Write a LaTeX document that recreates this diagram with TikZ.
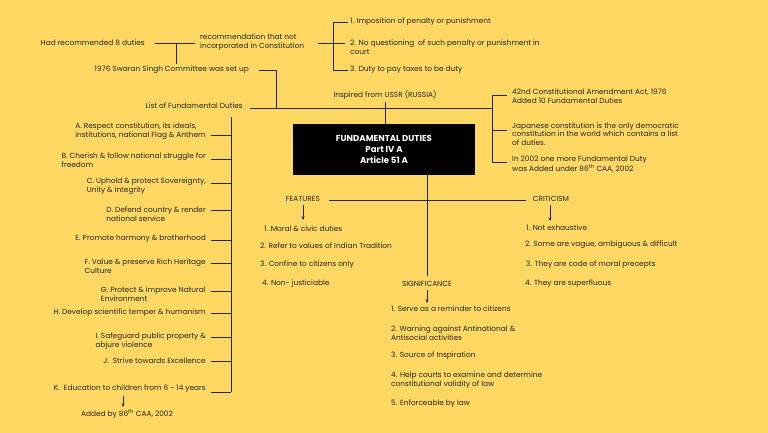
\documentclass[tikz,border=0pt]{standalone}
\usepackage{fontspec}
\setmainfont{Poppins}
\begin{document}
\begin{tikzpicture}[x=1pt,y=-1pt,
  t/.style={inner sep=0pt,font=\fontsize{7.4}{8.6}\selectfont,align=left,text=black!85},
  ln/.style={line width=0.9pt,black!85},
  ar/.style={ln,-{Stealth[length=3.5pt,width=3pt]}}]
\usetikzlibrary{arrows.meta}
\fill[yellow!40!orange!45!white] (0,0) rectangle (768,433);
\fill[fill={rgb,255:red,255;green,216;blue,100}] (0,0) rectangle (768,433);
\useasboundingbox (0,0) rectangle (768,433);
% top left
\node[t,anchor=east] (had) at (145,43) {Had recommended 8 duties};
\node[t,anchor=west] (rec) at (200,42) {recommendation that not\\incorporated in Constitution};
\node[t,anchor=east] (sw) at (249,70) {1976 Swaran Singh Committee was set up};
\draw[ln] (155,43) -- (195,43);
\draw[ln] (176,43) -- (176,64);
\draw[ln] (318,43) -- (345,43);
\draw[ln] (348,22) -- (333,22) -- (333,70) -- (348,70);
\node[t,anchor=west] (p1) at (350,22) {1. Imposition of penalty or punishment};
\node[t,anchor=west] (p2) at (350,47) {2. No questioning\ \ of such penalty or punishment in\\court};
\node[t,anchor=west] (p3) at (350,70) {3. Duty to pay taxes to be duty};
\draw[ln] (259,70) -- (276,70) -- (276,108);
\node[t,anchor=east] (lfd) at (243,106) {List of Fundamental Duties};
\draw[ln] (250,108) -- (492,108);
\node[t] (us) at (385,95) {Inspired from USSR (RUSSIA)};
\draw[ln] (385,102) -- (385,124);
\node[fill=black,text=white,font=\bfseries\fontsize{8.6}{11}\selectfont,align=center,minimum width=182pt,minimum height=51pt,inner sep=0pt] (box) at (384,149.5) {FUNDAMENTAL DUTIES\\Part IV A\\Article 51 A};
% right bracket
\draw[ln] (507,95) -- (492,95) -- (492,162) -- (507,162);
\draw[ln] (492,130) -- (507,130);
\node[t,anchor=west] at (512,96) {42nd Constitutional Amendment Act, 1976\\Added 10 Fundamental Duties};
\node[t,anchor=west] at (512,134) {Japanese constitution is the only democratic\\constitution in the world which contains a list\\of duties.};
\node[t,anchor=west] at (512,164) {In 2002 one more Fundamental Duty\\was Added under 86\textsuperscript{th} CAA, 2002};
% left list
\draw[ln] (231,117) -- (231,392);
\foreach \y/\txt in {131/{A. Respect constitution, its ideals,\\institutions, national Flag \& Anthem},
  160/{B. Cherish \& follow national struggle for\\freedom},
  186/{C. Uphold \& protect Sovereignty,\\Unity \& Integrity},
  214/{D. Defend country \& render\\national service},
  239/{E. Promote harmony \& brotherhood},
  266/{F. Value \& preserve Rich Heritage\\Culture},
  294/{G. Protect \& improve Natural\\Environment},
  313/{H. Develop scientific temper \& humanism},
  341/{I. Safeguard public property \&\\abjure violence},
  361/{J.\ \ Strive towards Excellence},
  389/{K.\ \ Education to children from 6 - 14 years}}
  {\node[t,anchor=east] at (206,\y) {\txt};}
\foreach \y in {135,159,183,210,240,263,291,313,337,361,392} \draw[ln] (211,\y) -- (231,\y);
\node[t] (k86) at (127,414) {Added by 86\textsuperscript{th} CAA, 2002};
\draw[ar] (123,396) -- (123,407);
% centre
\draw[ln] (427,175) -- (427,276);
\node[t] (sig) at (427,284) {SIGNIFICANCE};
\draw[ar] (427,290) -- (427,303);
\node[t] (fea) at (303,199) {FEATURES};
\node[t] (cri) at (551,199) {CRITICISM};
\draw[ln] (329,200) -- (526,200);
\draw[ar] (303,205) -- (303,220);
\draw[ar] (550,205) -- (550,221);
\node[t,anchor=west] at (264,229) {1. Moral \& civic duties};
\node[t,anchor=west] at (260,246) {2. Refer to values of Indian Tradition};
\node[t,anchor=west] at (260,265) {3. Confine to citizens only};
\node[t,anchor=west] at (262,284) {4. Non- justiciable};
\node[t,anchor=west] at (526,228) {1. Not exhaustive};
\node[t,anchor=west] at (525,245) {2. Some are vague, ambiguous \& difficult};
\node[t,anchor=west] at (526,265) {3. They are code of moral precepts};
\node[t,anchor=west] at (525,284) {4. They are superfluous};
\node[t,anchor=west] at (391,309) {1. Serve as a reminder to citizens};
\node[t,anchor=west] at (391,333) {2. Warning against Antinational \&\\Antisocial activities};
\node[t,anchor=west] at (391,356) {3. Source of Inspiration};
\node[t,anchor=west] at (391,380) {4. Help courts to examine and determine\\constitutional validity of law};
\node[t,anchor=west] at (391,404) {5. Enforceable by law};
\end{tikzpicture}
\end{document}
